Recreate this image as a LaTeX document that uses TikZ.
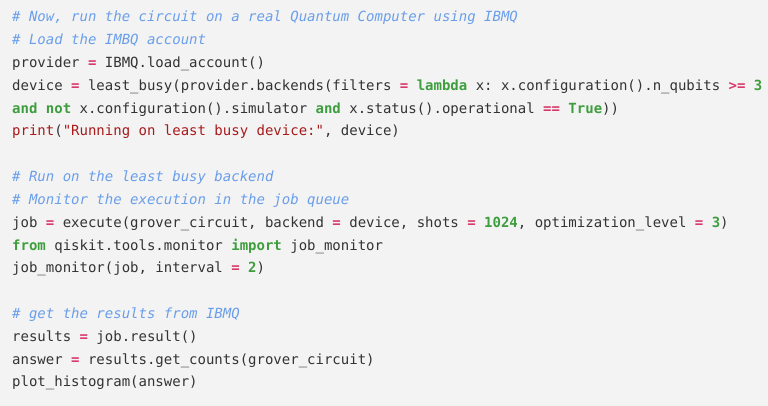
\documentclass[tikz,border=0pt]{standalone}
\usepackage{fontspec}
\setmonofont{DejaVu Sans Mono}
\definecolor{bg}{HTML}{F3F3F3}
\definecolor{txt}{HTML}{333333}
\definecolor{cmt}{HTML}{6A9EEA}
\definecolor{kwc}{HTML}{3E9E3E}
\definecolor{opc}{HTML}{D9376A}
\definecolor{strc}{HTML}{A81A1A}
\newcommand{\cmx}[1]{{\color{cmt}\itshape #1}}
\newcommand{\kwx}[1]{{\color{kwc}\bfseries #1}}
\newcommand{\opx}[1]{{\color{opc}\bfseries #1}}
\newcommand{\stx}[1]{{\color{strc}#1}}
\begin{document}
\begin{tikzpicture}[x=1pt,y=1pt,
  code/.style={anchor=base west,inner sep=0pt,font=\ttfamily\fontsize{14}{16}\selectfont,text=txt}]
\fill[bg] (0,0) rectangle (768,-406);
\useasboundingbox (0,0) rectangle (768,-406);
\def\ly#1{-(22+22.8*(#1-1))}
\node[code] (l1) at (12,{\ly{1}}) {\cmx{\# Now, run the circuit on a real Quantum Computer using IBMQ}};
\node[code] (l2) at (12,{\ly{2}}) {\cmx{\# Load the IMBQ account}};
\node[code] (l3) at (12,{\ly{3}}) {provider \opx{=} IBMQ.load\_account()};
\node[code] (l4) at (12,{\ly{4}}) {device \opx{=} least\_busy(provider.backends(filters \opx{=} \kwx{lambda} x: x.configuration().n\_qubits \opx{>=} \kwx{3}};
\node[code] (l5) at (12,{\ly{5}}) {\kwx{and} \kwx{not} x.configuration().simulator \kwx{and} x.status().operational \opx{==} \kwx{True}))};
\node[code] (l6) at (12,{\ly{6}}) {\stx{print}(\stx{"Running on least busy device:"}, device)};
\node[code] (l8) at (12,{\ly{8}}) {\cmx{\# Run on the least busy backend}};
\node[code] (l9) at (12,{\ly{9}}) {\cmx{\# Monitor the execution in the job queue}};
\node[code] (l10) at (12,{\ly{10}}) {job \opx{=} execute(grover\_circuit, backend \opx{=} device, shots \opx{=} \kwx{1024}, optimization\_level \opx{=} \kwx{3})};
\node[code] (l11) at (12,{\ly{11}}) {\kwx{from} qiskit.tools.monitor \kwx{import} job\_monitor};
\node[code] (l12) at (12,{\ly{12}}) {job\_monitor(job, interval \opx{=} \kwx{2})};
\node[code] (l14) at (12,{\ly{14}}) {\cmx{\# get the results from IBMQ}};
\node[code] (l15) at (12,{\ly{15}}) {results \opx{=} job.result()};
\node[code] (l16) at (12,{\ly{16}}) {answer \opx{=} results.get\_counts(grover\_circuit)};
\node[code] (l17) at (12,{\ly{17}}) {plot\_histogram(answer)};
\end{tikzpicture}
\end{document}
